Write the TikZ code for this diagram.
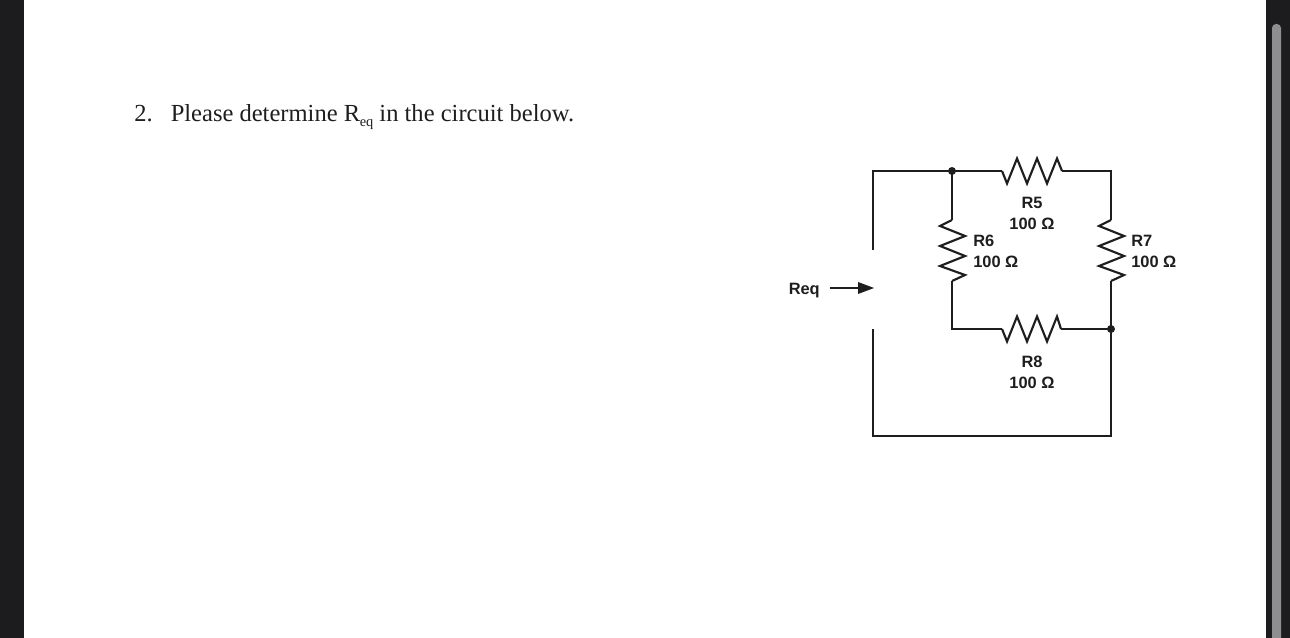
\documentclass[tikz,border=0pt]{standalone}
\usepackage{fontspec}
\setmainfont{Liberation Serif}
\newfontfamily\labelfont{Liberation Sans}
\definecolor{band}{HTML}{1C1C1E}
\definecolor{thumb}{HTML}{8E8E90}
\definecolor{ink}{HTML}{1E1E1E}
\tikzset{
  wire/.style={draw=ink,line width=1.6pt,line join=miter},
  dotnode/.style={circle,fill=ink,inner sep=0pt,minimum size=6pt},
  lab/.style={font=\labelfont\bfseries\fontsize{12.3}{15.75}\selectfont,text=ink,align=center,inner sep=0pt},
  title/.style={font=\fontsize{18.4}{22}\selectfont,text=ink,inner sep=0pt,anchor=base west}
}
\begin{document}
\begin{tikzpicture}[x=0.75pt,y=-0.75pt]
\useasboundingbox (0,0) rectangle (1290,638);
\fill[white] (0,0) rectangle (1290,638);
\fill[band] (0,0) rectangle (24,638);
\fill[band] (1266,0) rectangle (1290,638);
\fill[thumb,rounded corners=3pt] (1272,24) rectangle (1281,660);
\node[title] (q) at (134,121.5) {2.};
\node[title] (qt) at (170.5,121.5) {Please determine R\kern-0.3pt\raisebox{-0.2em}{\fontsize{10.8}{12}\selectfont eq} in the circuit below.};
% coordinates
\coordinate (tl) at (873,171);
\coordinate (topgap) at (873,250);
\coordinate (botgap) at (873,329);
\coordinate (bl) at (873,436);
\coordinate (br) at (1111,436);
\coordinate (tr) at (1111,171);
\coordinate (r5a) at (1002,171);
\coordinate (r5b) at (1062,171);
\coordinate (r6a) at (952,220);
\coordinate (r6b) at (952,281);
\coordinate (r7a) at (1111,220);
\coordinate (r7b) at (1111,281);
\coordinate (r8a) at (1002,329);
\coordinate (r8b) at (1061,329);
\coordinate (cl) at (952,329);
\node[dotnode] (j1) at (952,171) {};
\node[dotnode] (j2) at (1111,329) {};
% wires
\draw[wire] (topgap) -- (tl) -- (j1.center) -- (r5a);
\draw[wire] (r5b) -- (tr) -- (r7a);
\draw[wire] (j1.center) -- (r6a);
\draw[wire] (r6b) -- (cl) -- (r8a);
\draw[wire] (r8b) -- (j2.center);
\draw[wire] (r7b) -- (j2.center) -- (br) -- (bl) -- (botgap);
% resistors
\draw[wire] (r5a) -- ++(5,12.5) -- ++(10,-25) -- ++(10,25) -- ++(10,-25) -- ++(10,25) -- ++(10,-25) -- (r5b);
\draw[wire] (r8a) -- ++(5,12.5) -- ++(10,-25) -- ++(10,25) -- ++(10,-25) -- ++(10,25) -- ++(10,-25) -- (r8b);
\draw[wire] (r6a) -- ++(-12,6) -- ++(25,10) -- ++(-25,10) -- ++(25,10) -- ++(-25,10) -- ++(25,9) -- (r6b);
\draw[wire] (r7a) -- ++(-12,6) -- ++(25,10) -- ++(-25,10) -- ++(25,10) -- ++(-25,10) -- ++(25,9) -- (r7b);
% labels
\node[lab] (l5) at (1032,213) {R5\\100 \char"03A9};
\node[lab,anchor=west] (l6) at (973,252.5) {\begin{tabular}{@{}l@{}}R6\\100 \char"03A9\end{tabular}};
\node[lab,anchor=west] (l7) at (1131,252.5) {\begin{tabular}{@{}l@{}}R7\\100 \char"03A9\end{tabular}};
\node[lab] (l8) at (1032,372.5) {R8\\100 \char"03A9};
\node[lab,anchor=east] (req) at (820,291) {Req};
\coordinate (as) at (830,288);
\coordinate (ae) at (874,288);
\draw[wire] (as) -- (860,288);
\fill[ink] (ae) -- (858,282) -- (858,294) -- cycle;
\end{tikzpicture}
\end{document}
